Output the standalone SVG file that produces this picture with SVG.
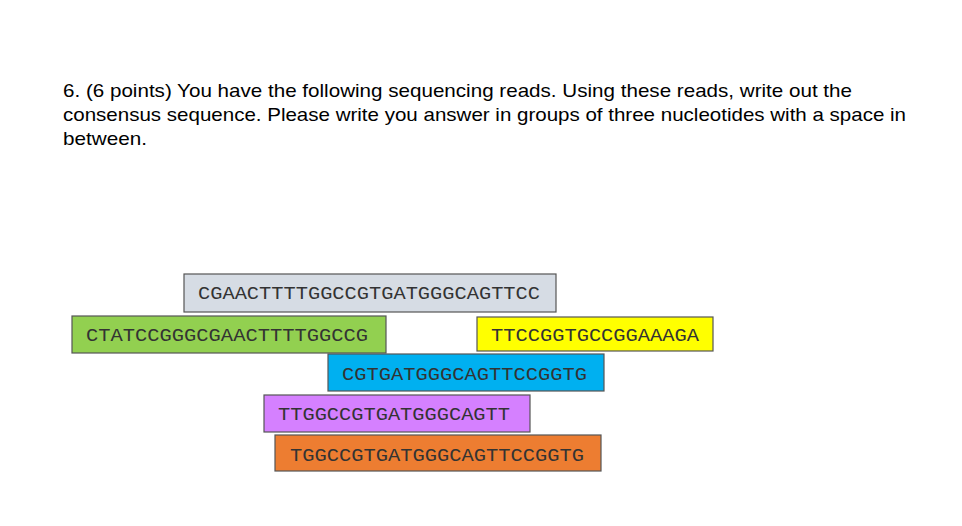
<svg xmlns="http://www.w3.org/2000/svg" width="962" height="526" viewBox="0 0 962 526">
<style>
.q{font-family:"Liberation Sans",Arial,sans-serif;font-size:19px;fill:#000}
.b{stroke:#555;stroke-width:1.2}
.s{font-family:"Liberation Mono","Courier New",monospace;font-size:19px;fill:#333}
</style>
<rect width="962" height="526" fill="#fff"/>
<text class="q" x="63" y="97" textLength="789" lengthAdjust="spacingAndGlyphs">6. (6 points) You have the following sequencing reads. Using these reads, write out the</text>
<text class="q" x="63" y="121" textLength="843" lengthAdjust="spacingAndGlyphs">consensus sequence. Please write you answer in groups of three nucleotides with a space in</text>
<text class="q" x="63" y="145" textLength="84" lengthAdjust="spacingAndGlyphs">between.</text>
<g id="r1"><rect class="b" x="184" y="274" width="372" height="38" fill="#d6dce4"/><text class="s" x="198" y="299" textLength="342" lengthAdjust="spacingAndGlyphs">CGAACTTTTGGCCGTGATGGGCAGTTCC</text></g>
<g id="r2"><rect class="b" x="72" y="316" width="314" height="37" fill="#92d050"/><text class="s" x="86" y="341" textLength="282" lengthAdjust="spacingAndGlyphs">CTATCCGGGCGAACTTTTGGCCG</text></g>
<g id="r3"><rect class="b" x="477" y="317" width="236" height="34" fill="#ffff00"/><text class="s" x="491" y="341" textLength="208" lengthAdjust="spacingAndGlyphs">TTCCGGTGCCGGAAAGA</text></g>
<g id="r4"><rect class="b" x="328" y="354" width="276" height="37" fill="#00b0f0"/><text class="s" x="342" y="380" textLength="245" lengthAdjust="spacingAndGlyphs">CGTGATGGGCAGTTCCGGTG</text></g>
<g id="r5"><rect class="b" x="264" y="395" width="266" height="37" fill="#d580ff"/><text class="s" x="278" y="420" textLength="232" lengthAdjust="spacingAndGlyphs">TTGGCCGTGATGGGCAGTT</text></g>
<g id="r6"><rect class="b" x="275" y="435" width="326" height="36" fill="#ed7d31"/><text class="s" x="290" y="461" textLength="294" lengthAdjust="spacingAndGlyphs">TGGCCGTGATGGGCAGTTCCGGTG</text></g>
<g id="connectors"/>
</svg>
